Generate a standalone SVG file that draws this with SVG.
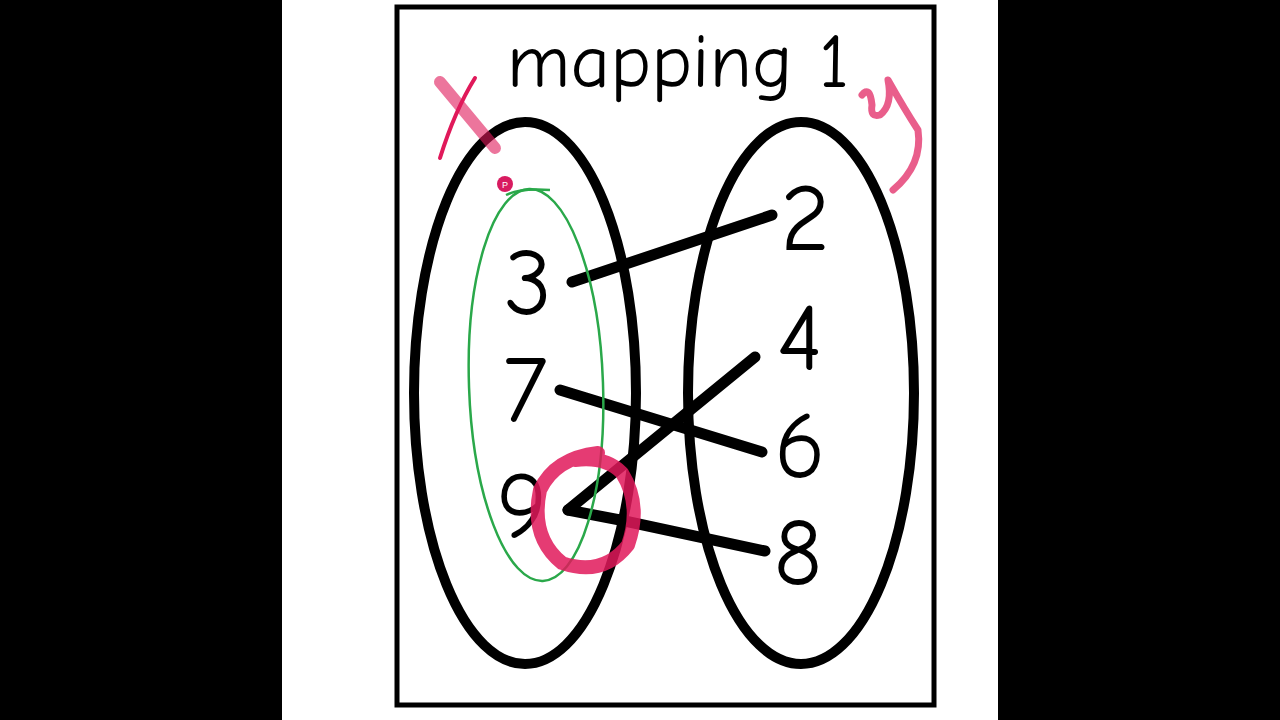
<svg xmlns="http://www.w3.org/2000/svg" width="1280" height="720" viewBox="0 0 1280 720">
<style>
.num{font-family:"Comic Neue","Liberation Sans",sans-serif;font-size:95px;fill:#000;text-anchor:middle}
.oval{fill:none;stroke:#000;stroke-width:10}
.con{stroke:#000;stroke-width:11;stroke-linecap:round;fill:none}
.ink{fill:none;stroke:#e0195a;stroke-linecap:round;stroke-linejoin:round}
</style>
<rect width="1280" height="720" fill="#000"/>
<rect x="282" y="0" width="716" height="720" fill="#fff"/>
<rect x="397" y="7" width="537" height="698" fill="none" stroke="#000" stroke-width="5"/>
<text x="678" y="87" font-family="Comic Neue,Liberation Sans,sans-serif" font-size="77" text-anchor="middle" fill="#000">mapping 1</text>
<g id="domain"><ellipse class="oval" cx="525" cy="393" rx="111" ry="271"/></g>
<g id="range"><ellipse class="oval" cx="801" cy="393" rx="113" ry="271"/></g>
<g id="connectors">
<line class="con" x1="572" y1="282" x2="772" y2="215"/>
<line class="con" x1="560" y1="390" x2="762" y2="452"/>
<line class="con" x1="568" y1="510" x2="755" y2="357"/>
<polyline class="con" points="568,510 620,520 765,551"/>
</g>
<g id="n3"><text class="num" x="528" y="315">3</text></g>
<g id="n7"><text class="num" x="525" y="422">7</text></g>
<g id="n9"><text class="num" x="522" y="538">9</text></g>
<g id="n2"><text class="num" x="805" y="250">2</text></g>
<g id="n4"><text class="num" x="800" y="370">4</text></g>
<g id="n6"><text class="num" x="800" y="478">6</text></g>
<g id="n8"><text class="num" x="798" y="585">8</text></g>
<g id="annotations">
<ellipse cx="536" cy="385" rx="67" ry="196" fill="none" stroke="#2aa84a" stroke-width="2.5" transform="rotate(-2 536 385)"/>
<path d="M506,195 Q520,188 550,190" fill="none" stroke="#2aa84a" stroke-width="2.5"/>
<path class="ink" stroke-width="12" opacity="0.6" d="M440,82 L495,148"/>
<path class="ink" stroke-width="4" d="M475,78 Q455,110 440,158"/>
<path class="ink" stroke-width="7" opacity="0.7" d="M862,95 Q870,85 872,105 Q870,118 880,115 Q893,105 888,80 Q905,110 918,130 Q923,165 893,190"/>
<path class="ink" stroke-width="14" opacity="0.85" d="M598,453 Q555,458 540,490 Q530,537 562,563 Q603,577 628,545 Q642,505 622,473 Q606,456 575,460"/>
<circle cx="505" cy="184" r="8" fill="#d81b60"/>
<text x="505" y="188" font-family="Liberation Sans,sans-serif" font-size="9" fill="#fff" text-anchor="middle">P</text>
</g>
</svg>
